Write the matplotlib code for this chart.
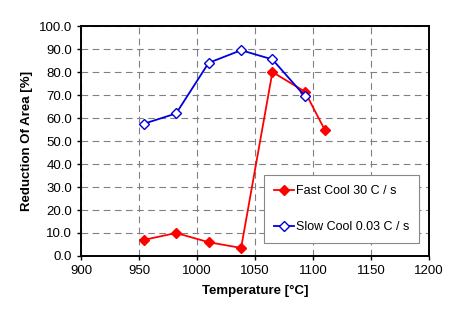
import matplotlib
matplotlib.use('Agg')
import matplotlib.pyplot as plt

plt.rcParams['font.family'] = ['Liberation Sans', 'DejaVu Sans']

# data
temp_fast = [954, 982, 1010, 1038, 1065, 1093, 1110]
ra_fast = [7.0, 10.0, 6.0, 3.5, 80.0, 71.5, 55.0]
temp_slow = [954, 982, 1010, 1038, 1065, 1093]
ra_slow = [57.5, 62.0, 84.0, 89.5, 85.5, 69.5]

fig = plt.figure(figsize=(4.74, 3.22), dpi=100)
ax = fig.add_axes([0.171, 0.205, 0.734, 0.714])

ax.plot(temp_fast, ra_fast, color='#ff0000', marker='D', markersize=5.5,
        markerfacecolor='#ff0000', markeredgecolor='#ff0000', lw=1.3,
        label='Fast Cool 30 C / s')
ax.plot(temp_slow, ra_slow, color='#0000dd', marker='D', markersize=5.5,
        markerfacecolor='white', markeredgecolor='#0000dd', lw=1.3,
        label='Slow Cool 0.03 C / s')

ax.set_xlim(900, 1200)
ax.set_ylim(0, 100)
ax.set_xticks(range(900, 1201, 50))
ax.set_yticks(range(0, 101, 10))
ax.set_yticklabels(['%.1f' % v for v in range(0, 101, 10)])
ax.tick_params(labelsize=9.5, length=3, width=1, direction='out')
ax.grid(True, color='#808080', linestyle=(0, (6, 4)), lw=0.8)

for s in ax.spines.values():
    s.set_linewidth(1.4)

ax.set_xlabel('Temperature [°C]', fontweight='bold', fontsize=9.5, labelpad=6)
ax.set_ylabel('Reduction Of Area [%]', fontweight='bold', fontsize=9.5)

leg = ax.legend(loc='lower right', bbox_to_anchor=(0.971, 0.057), borderaxespad=0,
                fontsize=9, frameon=True, fancybox=False, framealpha=1,
                edgecolor='#888888', labelspacing=1.9, borderpad=0.8,
                handlelength=1.6, handletextpad=0.15)
leg.get_frame().set_linewidth(0.8)

fig.savefig('out.png', dpi=100)
